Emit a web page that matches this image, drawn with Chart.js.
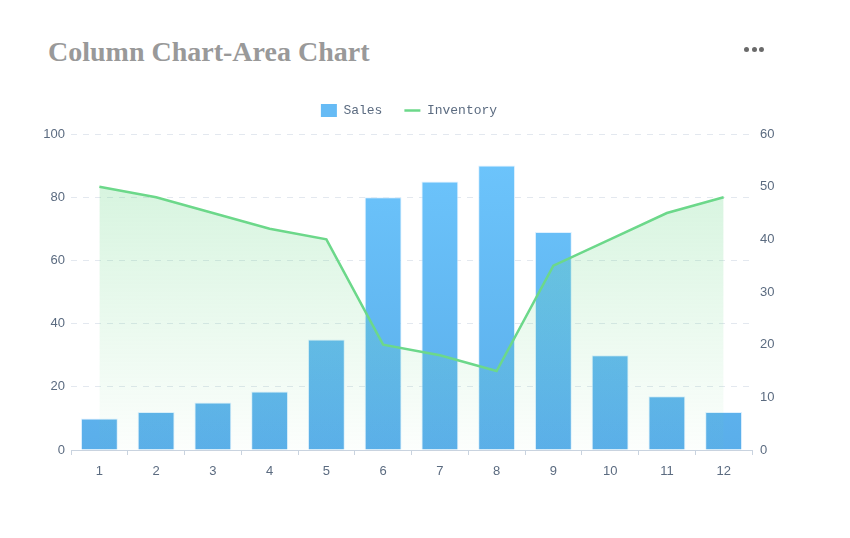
<!DOCTYPE html>
<html lang="en">
<head>
<meta charset="UTF-8">
<title>Column Chart-Area Chart</title>
<script src="https://cdn.jsdelivr.net/npm/chart.js"></script>
<style>
    html, body { margin: 0; padding: 0; background: #fff; }
    .wrap { position: relative; width: 850px; height: 538px; }
    .title {
        position: absolute; left: 48px; top: 36px;
        font-family: "Liberation Serif", "DejaVu Serif", serif;
        font-weight: bold; font-size: 28px; color: #999;
    }
    .menu { position: absolute; left: 744px; top: 47px; }
    .menu span {
        display: inline-block; width: 5px; height: 5px; border-radius: 50%;
        background: #6a6a6a; margin-right: 2.5px; vertical-align: top;
    }
    canvas { position: absolute; left: 0; top: 0; }
</style>
</head>
<body>
<div class="wrap">
    <div class="title">Column Chart-Area Chart</div>
    <div class="menu"><span></span><span></span><span></span></div>
    <canvas id="myChart" width="850" height="538"></canvas>
</div>
<script>
    const months = ['1', '2', '3', '4', '5', '6', '7', '8', '9', '10', '11', '12'];
    const sales = [10, 12, 15, 18.5, 35, 80, 85, 90, 69, 30, 17, 12];
    const inventory = [50, 48, 45, 42, 40, 20, 18, 15, 35, 40, 45, 48];
    const salesTicks = [0, 20, 40, 60, 80, 100];
    const inventoryTicks = [0, 10, 20, 30, 40, 50, 60];

    const tickColor = '#5b6b80';
    const gridColor = '#e3e8ef';

    function barGradient(context) {
        const area = context.chart.chartArea;
        if (!area) return '#66bbf5';
        const g = context.chart.ctx.createLinearGradient(0, area.top, 0, area.bottom);
        g.addColorStop(0, '#6ec6fd');
        g.addColorStop(1, '#5aaeea');
        return g;
    }

    function areaGradient(context) {
        const area = context.chart.chartArea;
        if (!area) return 'rgba(108,216,138,0.2)';
        const g = context.chart.ctx.createLinearGradient(0, area.top, 0, area.bottom);
        g.addColorStop(0, 'rgba(108,216,138,0.32)');
        g.addColorStop(1, 'rgba(108,216,138,0.02)');
        return g;
    }

    // extra gap under the legend, before the plot
    const legendGap = {
        id: 'legendGap',
        afterInit(chart) {
            const lg = chart.legend;
            const fit = lg.fit.bind(lg);
            lg.fit = function () {
                fit();
                this.height += 7;
            };
        }
    };

    let ctx = document.getElementById('myChart').getContext('2d');
    let myChart = new Chart(ctx, {
        data: {
            labels: months,
            datasets: [{
                type: 'bar',
                label: 'Sales',
                data: sales,
                yAxisID: 'y',
                backgroundColor: barGradient,
                borderColor: 'rgba(220,240,255,0.9)',
                borderWidth: 1,
                barPercentage: 0.65,
                categoryPercentage: 1,
                pointStyle: 'rect',
                order: 2
            }, {
                type: 'line',
                label: 'Inventory',
                data: inventory,
                yAxisID: 'y1',
                borderColor: '#6cd88a',
                borderWidth: 2.5,
                backgroundColor: areaGradient,
                fill: 'origin',
                pointRadius: 0,
                pointHoverRadius: 0,
                tension: 0,
                pointStyle: 'line',
                order: 1
            }]
        },
        plugins: [legendGap],
        options: {
            responsive: false,
            animation: false,
            layout: { padding: { top: 82, left: 0, right: 32, bottom: 0 } },
            plugins: {
                tooltip: { enabled: false },
                legend: {
                    position: 'top',
                    labels: {
                        usePointStyle: true,
                        pointStyleWidth: 16,
                        boxHeight: 13,
                        color: tickColor,
                        padding: 22,
                        font: { family: '"Liberation Mono", "DejaVu Sans Mono", monospace', size: 13 },
                        generateLabels: (chart) => chart.data.datasets.map((ds, i) => ({
                            text: ds.label,
                            fillStyle: i === 0 ? '#66bbf5' : '#6cd88a',
                            strokeStyle: i === 0 ? '#66bbf5' : '#6cd88a',
                            lineWidth: i === 0 ? 0 : 2.5,
                            pointStyle: ds.pointStyle,
                            fontColor: tickColor,
                            datasetIndex: i
                        }))
                    }
                }
            },
            scales: {
                x: {
                    offset: true,
                    grid: {
                        display: true,
                        drawOnChartArea: false,
                        offset: true,
                        color: '#c9d3df',
                        tickLength: 5
                    },
                    border: { color: '#c9d3df' },
                    ticks: { color: tickColor, font: { family: '"Liberation Sans", Arial, sans-serif', size: 13 }, padding: 9 },
                    afterFit: (axis) => { axis.height = 88; }
                },
                y: {
                    position: 'left',
                    min: 0, max: 100,
                    afterBuildTicks: (axis) => { axis.ticks = salesTicks.map((v) => ({ value: v })); },
                    grid: { color: gridColor, drawTicks: false },
                    border: { display: false, dash: [6, 6] },
                    ticks: { color: tickColor, padding: 6, font: { family: '"Liberation Sans", Arial, sans-serif', size: 13 } },
                    afterFit: (axis) => { axis.width = 71; }
                },
                y1: {
                    position: 'right',
                    min: 0, max: 60,
                    afterBuildTicks: (axis) => { axis.ticks = inventoryTicks.map((v) => ({ value: v })); },
                    grid: { drawOnChartArea: false, drawTicks: false },
                    border: { display: false },
                    ticks: { color: tickColor, padding: 8, font: { family: '"Liberation Sans", Arial, sans-serif', size: 13 } },
                    afterFit: (axis) => { axis.width = 66; }
                }
            }
        }
    });
</script>
</body>
</html>
